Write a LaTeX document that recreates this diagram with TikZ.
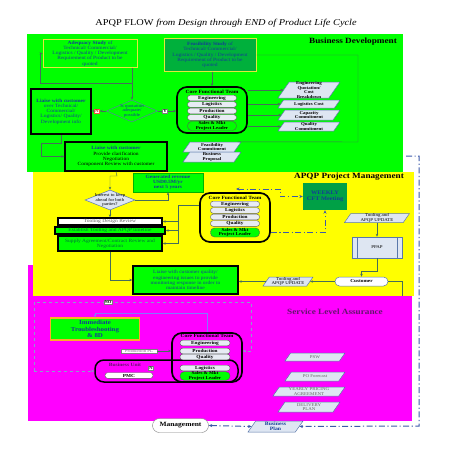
\documentclass[tikz,border=0pt]{standalone}
\usepackage{fontspec}
\setmainfont{Liberation Serif}[FakeStretch=1.15]
\usetikzlibrary{shapes.geometric,arrows.meta,calc}
\definecolor{bgG}{RGB}{0,255,0}
\definecolor{bgY}{RGB}{255,255,0}
\definecolor{bgM}{RGB}{255,0,255}
\definecolor{dkG}{RGB}{0,176,60}
\definecolor{wkG}{RGB}{0,160,70}
\definecolor{parF}{RGB}{222,230,242}
\definecolor{parD}{RGB}{90,120,170}
\definecolor{pillF}{RGB}{232,236,244}
\definecolor{txB}{RGB}{20,60,150}
\definecolor{txG}{RGB}{0,110,60}
\definecolor{dashB}{RGB}{60,90,170}
\definecolor{lav}{RGB}{130,120,255}
\definecolor{purp}{RGB}{100,20,110}
\definecolor{lnC}{RGB}{70,110,90}
\definecolor{orng}{RGB}{255,170,40}
\definecolor{ybord}{RGB}{230,230,60}
% parallelogram: [text style]{name}{x}{y}{w}{h}{text}
\newcommand\mypara[7][]{%
 \filldraw[draw=parD, fill=parF, line width=0.5pt] ({#3-#5/2},{#4+#6/2}) -- ({#3+#5/2-0.7*#6},{#4+#6/2}) -- ({#3+#5/2},{#4-#6/2}) -- ({#3-#5/2+0.7*#6},{#4-#6/2}) -- cycle;
 \node[minimum width={#5-0.7*#6}, minimum height=#6, inner sep=0pt, #1] (#2) at (#3,#4) {#7};
}
\begin{document}
\begin{tikzpicture}[x=1pt,y=-1pt,
 every node/.style={align=center, inner sep=0.5pt},
 tx/.style={font=\fontsize{4.8}{5.2}\selectfont},
 txs/.style={font=\fontsize{4.3}{4.6}\selectfont},
 txsb/.style={font=\bfseries\fontsize{4.3}{4.4}\selectfont},
 blk/.style={draw=black, line width=1.3pt},
 pill/.style={draw=black!65, fill=pillF, rounded corners=2.6pt, minimum width=49pt, minimum height=5.6pt, inner sep=0pt, font=\bfseries\fontsize{4.6}{5}\selectfont},
 gpill/.style={pill, fill=bgG, rounded corners=4pt, minimum height=9pt, font=\bfseries\fontsize{4.4}{4.6}\selectfont},
 core/.style={draw=black, line width=1.7pt, rounded corners=10pt, inner sep=0pt},
 cttl/.style={font=\bfseries\fontsize{4.8}{5}\selectfont},
 hdr/.style={font=\bfseries\fontsize{8}{9}\selectfont},
 ln/.style={draw=lnC, line width=0.45pt},
 arr/.style={-{Stealth[length=3pt,width=2.4pt]}},
 dd/.style={draw=dashB, line width=1pt, dash pattern=on 6pt off 2.5pt on 1.2pt off 2.5pt},
 tag/.style={draw=black!50, fill=white, font=\bfseries\fontsize{4}{4}\selectfont, inner sep=0.8pt},
]
\useasboundingbox (0,0) rectangle (452,452);
\fill[white] (0,0) rectangle (452,452);
\node[font=\fontsize{9}{10}\selectfont] (title) at (226,23) {APQP FLOW \textit{from Design through END of Product Life Cycle}};
% regions
\fill[bgG] (27,34) rectangle (403,172);
\fill[bgM] (28,265) rectangle (412,421);
\fill[bgY] (33,172) rectangle (414,296);
\node[hdr] (bdlab) at (353,42) {Business Development};
\node[hdr] (pmlab) at (349,177) {APQP Project Management};
\node[hdr, text=purp] (slalab) at (335,312) {Service Level Assurance};
% ---------- Business Development ----------
\node[fill=bgG, draw=ybord, line width=1pt, minimum width=94pt, minimum height=27pt, tx, text=txB] (adeq) at (90,53.5) {\textbf{Adequacy Study} of\\Technical/ Commercial/\\Logistics / Quality / Development\\Requirement of Product to be\\quoted};
\node[fill=dkG, draw=ybord, line width=1pt, minimum width=92pt, minimum height=32pt, tx, text=txB] (feas) at (210,55) {\textbf{Feasibility Study} of\\Technical/ Commercial/\\Logistics / Quality / Development\\Requirement of Product to be\\quoted};
\node[blk, fill=bgG, minimum width=60pt, minimum height=45pt, tx, text=txB] (li1) at (61,111.5) {\textbf{Liaise with customer}\\over Technical/\\Commercial/\\Logistics/ Quality/\\Development info};
\node[diamond, draw=parD, fill=bgG, line width=0.5pt, minimum width=51pt, minimum height=22pt, inner sep=0pt] (dia1) at (132,111) {};
\node[txs, text=txB] (dia1t) at (dia1) {Is quotation\\adequate/\\possible};
\node[core, minimum width=70pt, minimum height=46pt] (core1) at (212,110) {};
\node[cttl] (ct1) at (212,91.5) {Core Functional Team};
\node[pill] (e1) at (212,98) {Engineering};
\node[pill] (l1) at (212,104.5) {Logistics};
\node[pill] (pr1) at (212,111) {Production};
\node[pill] (q1) at (212,117.5) {Quality};
\node[gpill] (s1) at (212,126) {Sales \& Mkt\\Project Leader};
\mypara[txsb]{p1}{309}{90}{62}{16}{Engineering\\Quotation/\\Cost\\Breakdown}
\mypara[txsb]{p2}{309}{104}{62}{8}{Logistics Cost}
\mypara[txsb]{p3}{309}{115}{62}{10}{Capacity\\Commitment}
\mypara[txsb]{p4}{309}{126.5}{62}{9}{Quality\\Commitment}
\mypara[txsb]{fc}{212}{147}{58}{10}{Feasibility\\Commitment}
\mypara[txsb]{bp}{212}{157}{58}{10}{Business\\Proposal}
\node[blk, fill=bgG, minimum width=102pt, minimum height=29pt, tx] (li2) at (116,156.5) {\textcolor{txB}{\textbf{Liaise with customer}}\\Provide clarification\\Negotiation\\Component Review with customer};
\node[tag, draw=red!70, text=red!70!black] (tn1) at (97,111) {N};
\node[tag] (ty1) at (165,111) {Y};
% connectors BD
\draw[ln,arr] (adeq.south -| dia1.north) -- (dia1.north);
\coordinate (j1) at (132,83);
\draw[ln,arr] (j1) -- (40,83) -- (40,53.5) -- (adeq.west);
\draw[ln,arr] (dia1.west) -- (tn1.east);
\draw[ln,arr] (tn1.west) -- (li1.east |- tn1.west);
\draw[ln] (dia1.east) -- (ty1.west);
\draw[ln,arr] (ty1.east) -- (core1.west |- ty1.east);
\draw[ln,arr] (feas.south -| core1.north) -- (core1.north);
\draw[ln,arr] (core1.east |- p1) -- (p1.west);
\draw[ln,arr] (core1.east |- p2) -- (p2.west);
\draw[ln,arr] (core1.east |- p3) -- (p3.west);
\draw[ln,arr] (core1.east |- p4) -- (p4.west);
\draw[ln] (feas.east) -- (358,55) -- (358,142) -- (fc.north east);
\draw[ln,arr] (li1.south) -- (61,143) -- (41,143) -- (41,156.5) -- (li2.west);
% ---------- APQP Project Management ----------
\node[fill=bgG, draw=bgG!70!black, line width=0.4pt, minimum width=70pt, minimum height=19pt, text=txB, font=\bfseries\fontsize{4.8}{5.2}\selectfont] (gen) at (168,182.5) {Generated revenue\\USD0.5M/yr\\next 5 years};
\node[diamond, draw=parD, fill=parF, line width=0.5pt, minimum width=50pt, minimum height=20pt, inner sep=0pt] (dia2) at (110,200) {};
\node[txs] (dia2t) at (dia2) {Interest to keep\\ahead for both\\parties?};
\node[blk, fill=white, minimum width=104pt, minimum height=7pt, tx, text=black!60] (tdr) at (110,221.5) {Tooling Design Review};
\node[blk, fill=bgG, minimum width=110pt, minimum height=7pt, tx, text=txG] (est) at (110,230.5) {Establish Tooling and APQP timeline};
\node[blk, fill=bgG, minimum width=104pt, minimum height=15pt, tx, text=txG] (sup) at (110,243.5) {Supply Agreement/Contract Review and\\Negotiation};
\node[core, minimum width=70pt, minimum height=49pt] (core2) at (235,217.5) {};
\node[cttl] (ct2) at (235,197.5) {Core Functional Team};
\node[pill] (e2) at (235,204) {Engineering};
\node[pill] (l2) at (235,210.5) {Logistics};
\node[pill] (pr2) at (235,217) {Production};
\node[pill] (q2) at (235,223.5) {Quality};
\node[gpill] (s2) at (235,232.5) {Sales \& Mkt\\Project Leader};
\node[fill=wkG, minimum width=44pt, minimum height=27pt, font=\bfseries\fontsize{5.5}{6}\selectfont, text=txB] (wk) at (325,196.5) {WEEKLY\\CFT Meeting};
\mypara[txs]{tau1}{377}{218}{65}{9}{Tooling and\\APQP UPDATE}
\node[draw=parD, fill=parF, line width=0.5pt, minimum width=50pt, minimum height=21pt, txs] (ppap) at (377,247.5) {PPAP};
\draw[parD, line width=0.5pt] ($(ppap.north west)+(5,0)$) -- ($(ppap.south west)+(5,0)$) ($(ppap.north east)+(-5,0)$) -- ($(ppap.south east)+(-5,0)$);
\node[draw=parD, fill=white, rounded corners=4.5pt, line width=0.5pt, minimum width=53pt, minimum height=9pt, font=\bfseries\fontsize{4.6}{5}\selectfont] (cust) at (361.5,281.5) {Customer};
\mypara[txs]{tau2}{288}{281.5}{50}{9}{Tooling and\\APQP UPDATE}
\node[blk, fill=bgG, minimum width=105pt, minimum height=28pt, tx, text=txB] (li3) at (185.5,280) {Liaise with customer quality/\\engineering issues to provide\\monitoring response in order to\\maintain timeline};
% connectors PM
\draw[ln,arr] (li2.south) -- (117,176) -| (dia2.north);
\draw[ln,arr] (dia2.east) -| (gen.south);
\draw[ln,arr] (dia2.south) -- (tdr.north);
\draw[ln] (core2.west |- 0,205) -- (178,205) -- (178,243.5);
\draw[ln,arr] (178,221.5) -- (tdr.east);
\draw[ln,arr] (178,230.5) -- (est.east);
\draw[ln,arr] (178,243.5) -- (sup.east);
\draw[ln,arr] (sup.south) |- (li3.west);
\draw[ln,arr] (tau1.south) -- (ppap.north);
\draw[ln,arr] (ppap.south) -- (377,271) -| (cust.north);
\draw[ln,arr] (cust.west) -- (tau2.east);
\draw[ln,arr] (tau2.west) -- (li3.east |- tau2.west);
\draw[ln] (cust.east) -- (402,281.5) -- (402,296);
\coordinate (c2t) at (236,189);
\draw[dd,{Stealth[length=3.5pt,width=3pt]}-{Stealth[length=3.5pt,width=3pt]}] (c2t) -- (280,189) |- (wk.west);
\draw[dd,-{Stealth[length=3.5pt,width=3pt]}] (core2.east |- s2) -- (325,232.5) -- (wk.south);
% ---------- Service Level Assurance ----------
\node[fill=bgG, draw=orng, line width=1.3pt, minimum width=89pt, minimum height=22pt, font=\bfseries\fontsize{6}{6.4}\selectfont, text=txB] (imm) at (95,329) {Immediate\\Troubleshooting\\\& 8D};
\node[draw=black, line width=1.5pt, rounded corners=9pt, minimum width=143pt, minimum height=22pt, inner sep=0pt] (bu) at (166.5,371) {};
\node[cttl, text=purp] (bul) at (125,365) {Business Unit};
\node[core, minimum width=70pt, minimum height=49pt] (core3) at (207,357.5) {};
\node[cttl] (ct3) at (207,336) {Core Functional Team};
\node[pill, minimum width=50pt] (e3) at (205,343) {Engineering};
\node[pill, minimum width=50pt] (pr3) at (205,351) {Production};
\node[pill, minimum width=50pt] (q3) at (205,357) {Quality};
\node[pill, minimum width=50pt] (lo3) at (205,368) {Logistics};
\node[gpill, minimum width=50pt, minimum height=8.5pt] (s3) at (205,376) {Sales \& Mkt\\Project Leader};
\node[tag, font=\fontsize{4.2}{4.2}\selectfont, text=purp!70, minimum width=36pt] (ppl) at (139,351) {Production PL};
\node[tag] (tn3) at (151,368) {N};
\node[pill, minimum width=48pt, fill=white] (pmc) at (129,375.5) {PMC};
\mypara[txs,text=black!60]{psw}{315}{357}{60}{8}{PSW}
\mypara[txs,text=black!60]{pof}{315}{376.5}{60}{9}{PO Forecast}
\mypara[txs,text=black!60]{ypa}{309}{391.5}{72}{9}{YEARLY PRICING\\AGREEMENT}
\mypara[txs,text=black!60]{dp}{309}{407}{62}{10}{DELIVERY\\PLAN}
\node[draw=black!50, fill=white, rounded corners=7pt, minimum width=56pt, minimum height=14pt, font=\bfseries\fontsize{6.5}{7}\selectfont] (mg) at (180.5,425.5) {Management};
\mypara[font=\bfseries\fontsize{5}{5.2}\selectfont,text=txB]{bpl}{275.5}{426.5}{55}{11}{Business\\Plan}
% connectors SLA
\draw[lav, line width=1pt, arr] (core3.north -| 207,0) -- (207,313) -| (imm.north);
\draw[ln,arr] (ppl.east) -- (core3.west |- ppl.east);
\draw[dashB!60, dashed, line width=0.7pt] (34,371) -- (34,302) -- (251,302) -- (251,351);
\draw[dashB!60, dashed, line width=0.7pt, arr] (251,351) -- (core3.east |- 0,351);
\draw[dashB!60, dashed, line width=0.7pt, arr] (34,371) -- (bu.west);
\node[tag] (nol) at (108,302) {NO};
\draw[dd,{Stealth[length=3.5pt,width=3pt]}-{Stealth[length=3.5pt,width=3pt]}] (mg.east) -- (bpl.west);
\coordinate (rt) at (406,156);
\draw[dd,-{Stealth[length=3.5pt,width=3pt]}] (rt) -- (419,156) -- (419,426) -- (bpl.east);
\end{tikzpicture}
\end{document}
